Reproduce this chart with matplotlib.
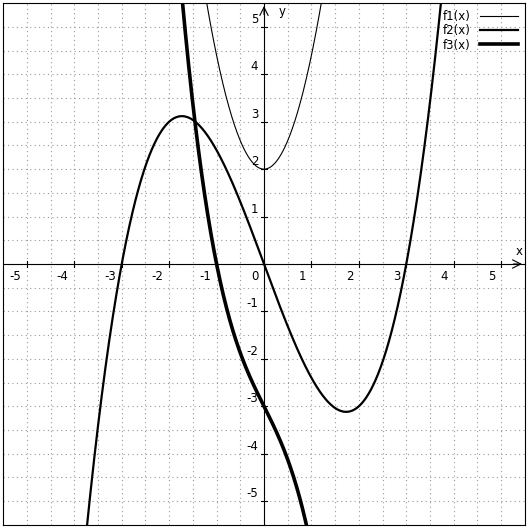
import numpy as np
import matplotlib
matplotlib.use("Agg")
import matplotlib.pyplot as plt

# polynomial coefficients (highest power first)
f1_coef = [2.4, 0.0, 2.0]
f2_coef = [0.3, 0.0, -2.7, 0.0]
f3_coef = [-1.0, 0.0, -2.0, -3.0]
labels = ["f1(x)", "f2(x)", "f3(x)"]
widths = [0.8, 1.6, 2.6]
ticks = [-5, -4, -3, -2, -1, 0, 1, 2, 3, 4, 5]

fig = plt.figure(figsize=(5.28, 5.28), dpi=100)
ax = fig.add_axes([0.006, 0.006, 0.988, 0.988])
lim = 5.5
ax.set_xlim(-lim, lim)
ax.set_ylim(-lim, lim)
x = np.linspace(-lim, lim, 2000)
for c, lab, w in zip([f1_coef, f2_coef, f3_coef], labels, widths):
    ax.plot(x, np.polyval(c, x), color="black", lw=w, label=lab)

for t in np.arange(-5, 6, 0.5):
    ax.axvline(t, color="#999999", ls=(0, (1, 3)), lw=0.8, zorder=0)
    ax.axhline(t, color="#999999", ls=(0, (1, 3)), lw=0.8, zorder=0)
ax.axhline(0, color="black", lw=0.8)
ax.axvline(0, color="black", lw=0.8)
for t in ticks:
    ax.plot([t, t], [-0.07, 0.07], color="black", lw=0.8)
    ax.plot([-0.07, 0.07], [t, t], color="black", lw=0.8)
    ax.text(t - 0.12, -0.12, str(t), ha="right", va="top", fontsize=8.5, family="DejaVu Sans")
    if t != 0:
        ax.text(-0.12, t + 0.02, str(t), ha="right", va="bottom", fontsize=8.5)
ax.annotate("", xy=(lim, 0), xytext=(lim - 0.3, 0),
            arrowprops=dict(arrowstyle="->", lw=0.8, mutation_scale=15))
ax.annotate("", xy=(0, lim), xytext=(0, lim - 0.3),
            arrowprops=dict(arrowstyle="->", lw=0.8, mutation_scale=15))
ax.text(5.3, 0.2, "x", fontsize=8.5)
ax.text(0.3, 5.25, "y", fontsize=8.5)
ax.set_xticks([]); ax.set_yticks([])
for s in ax.spines.values():
    s.set_linewidth(0.8)
leg = ax.legend(loc="upper right", frameon=False, fontsize=8.5, handlelength=3.2,
                labelspacing=0.1, markerfirst=False, borderaxespad=0.2)
fig.savefig("out.png", dpi=100, facecolor="white")
